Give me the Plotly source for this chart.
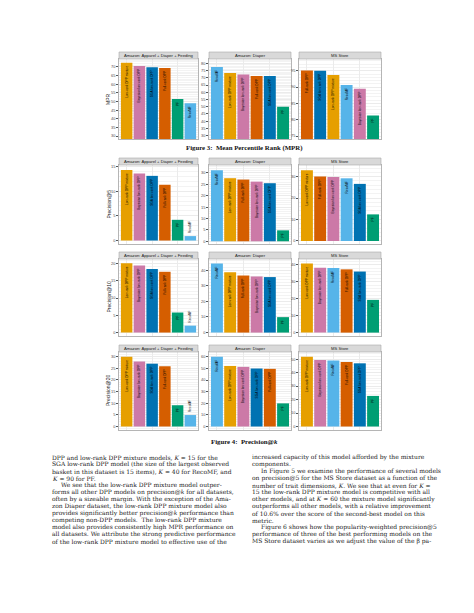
import plotly.graph_objects as go

W, H = 474, 613

datasets = ["Amazon: Apparel + Diaper + Feeding", "Amazon: Diaper", "MS Store"]

LR = "Low-rank DPP mixture"
BAY = "Bayesian low-rank DPP"
SGA = "SGA low-rank DPP"
FR = "Full-rank DPP"
PF = "PF"
RMF = "RecoMF"

model_colors = {
    LR: "#E69F00",
    BAY: "#CC79A7",
    SGA: "#0072B2",
    FR: "#D55E00",
    PF: "#009E73",
    RMF: "#56B4E9",
}

# Figure 3: MPR
mpr_models = [
    [LR, BAY, SGA, FR, PF, RMF],
    [RMF, LR, BAY, FR, SGA, PF],
    [FR, SGA, LR, RMF, BAY, PF],
]
mpr_values = [
    [72.5, 70.6, 69.8, 69.4, 51.5, 49.0],
    [77.5, 73.3, 72.2, 71.2, 71.2, 50.0],
    [95.1, 95.0, 93.7, 90.6, 89.5, 81.3],
]

# Figure 4: precision@k
p5_models = [
    [LR, BAY, SGA, FR, PF, RMF],
    [RMF, LR, FR, BAY, SGA, PF],
    [LR, FR, BAY, RMF, SGA, PF],
]
p5_values = [
    [14.3, 13.6, 13.1, 11.3, 4.2, 0.9],
    [31.2, 27.7, 27.1, 26.2, 25.5, 4.8],
    [32.9, 30.1, 29.8, 29.2, 26.6, 12.4],
]

p10_models = [
    [LR, BAY, SGA, FR, PF, RMF],
    [RMF, LR, FR, BAY, SGA, PF],
    [LR, BAY, RMF, FR, SGA, PF],
]
p10_values = [
    [20.1, 19.4, 18.4, 17.6, 5.8, 2.0],
    [44.3, 38.7, 36.6, 36.0, 35.6, 9.9],
    [40.7, 38.3, 38.1, 37.3, 36.0, 19.3],
]

p20_models = [
    [LR, BAY, SGA, FR, PF, RMF],
    [RMF, LR, BAY, SGA, FR, PF],
    [LR, BAY, RMF, FR, SGA, PF],
]
p20_values = [
    [29.9, 27.8, 26.9, 25.8, 9.1, 4.9],
    [60.0, 52.1, 51.3, 49.9, 49.6, 19.9],
    [51.7, 49.3, 49.0, 47.8, 46.9, 22.7],
]

metric_titles = ["MPR", "Precision@5", "Precision@10", "Precision@20"]
metric_models = [mpr_models, p5_models, p10_models, p20_models]
metric_values = [mpr_values, p5_values, p10_values, p20_values]

# axis ranges / tick steps as drawn in the original
y_ranges = [
    [[28.3, 74.6], [27.7, 83.0], [74.1, 98.6]],
    [[-0.7, 15.3], [-1.2, 33.5], [-1.4, 35.4]],
    [[-1.0, 21.3], [-2.2, 47.2], [-2.0, 43.4]],
    [[-1.5, 31.9], [-3.0, 64.1], [-2.6, 55.3]],
]
y_dticks = [[5, 5, 5], [5, 5, 10], [5, 10, 10], [5, 10, 10]]

left_lines = [
    "DPP and low-rank DPP mixture models, <i>K</i> = 15 for the",
    "SGA low-rank DPP model (the size of the largest observed",
    "basket in this dataset is 15 items), <i>K</i> = 40 for RecoMF, and",
    "<i>K</i> = 90 for PF.",
    "   We see that the low-rank DPP mixture model outper-",
    "forms all other DPP models on precision@<i>k</i> for all datasets,",
    "often by a sizeable margin. With the exception of the Ama-",
    "zon Diaper dataset, the low-rank DPP mixture model also",
    "provides significantly better precision@<i>k</i> performance than",
    "competing non-DPP models.  The low-rank DPP mixture",
    "model also provides consistently high MPR performance on",
    "all datasets. We attribute the strong predictive performance",
    "of the low-rank DPP mixture model to effective use of the",
]
right_lines = [
    "increased capacity of this model afforded by the mixture",
    "components.",
    "   In Figure 5 we examine the performance of several models",
    "on precision@5 for the MS Store dataset as a function of the",
    "number of trait dimensions, <i>K</i>. We see that at even for <i>K</i> =",
    "15 the low-rank DPP mixture model is competitive with all",
    "other models, and at <i>K</i> = 60 the mixture model significantly",
    "outperforms all other models, with a relative improvement",
    "of 10.6% over the score of the second-best model on this",
    "metric.",
    "   Figure 6 shows how the popularity-weighted precision@5",
    "performance of three of the best performing models on the",
    "MS Store dataset varies as we adjust the value of the β pa-",
]

# page geometry in pixels
col_px = [(111, 190), (201, 283), (291, 373)]
row_px = [(51, 131), (157, 236), (251, 328), (344, 422)]
strip_h = 7
bar_font = 3.2


def px_x(x):
    return x / W


def px_y(y):
    return 1 - y / H


fig = go.Figure()
shapes = []
annotations = []

n = 0
for r in range(4):
    for c in range(3):
        n += 1
        suffix = "" if n == 1 else str(n)
        models = metric_models[r][c]
        vals = metric_values[r][c]
        lo, hi = y_ranges[r][c]
        t, b = row_px[r]
        # label goes above the bar when it would not fit inside
        positions = []
        for m, v in zip(models, vals):
            bar_px = (v - lo) / (hi - lo) * (b - t)
            need_px = len(m) * 0.55 * bar_font + 5
            positions.append("inside" if bar_px > need_px else "outside")
        fig.add_trace(go.Bar(
            x=models, y=vals,
            marker=dict(color=[model_colors[m] for m in models], line=dict(width=0)),
            text=models, textposition=positions, textangle=-90,
            insidetextanchor="end",
            textfont=dict(family="Liberation Sans", size=bar_font, color="black"),
            insidetextfont=dict(family="Liberation Sans", size=bar_font, color="black"),
            outsidetextfont=dict(family="Liberation Sans", size=bar_font, color="black"),
            constraintext="none",
            xaxis="x" + suffix, yaxis="y" + suffix,
            showlegend=False, hoverinfo="x+y",
        ))
        x0, x1 = col_px[c]
        fig.layout["xaxis" + suffix] = dict(
            domain=[px_x(x0), px_x(x1)], anchor="y" + suffix,
            showticklabels=False, ticks="", range=[-0.6, 5.6],
            showgrid=True, gridcolor="#EBEBEB", gridwidth=0.6,
            showline=True, mirror=True, linecolor="#B5B5B5", linewidth=0.6,
            zeroline=False, fixedrange=True,
        )
        fig.layout["yaxis" + suffix] = dict(
            domain=[px_y(b), px_y(t)], anchor="x" + suffix,
            range=[lo, hi], dtick=y_dticks[r][c], tick0=0,
            ticks="outside", ticklen=2, tickwidth=0.5, tickcolor="#555555",
            tickfont=dict(family="Liberation Sans", size=4, color="#4D4D4D"),
            showgrid=True, gridcolor="#EBEBEB", gridwidth=0.6,
            minor=dict(showgrid=True, gridcolor="#F3F3F3", gridwidth=0.4),
            showline=True, mirror=True, linecolor="#B5B5B5", linewidth=0.6,
            zeroline=False, fixedrange=True,
        )
        # facet strip
        shapes.append(dict(
            type="rect", xref="paper", yref="paper",
            x0=px_x(x0), x1=px_x(x1), y0=px_y(t), y1=px_y(t - strip_h),
            fillcolor="#D9D9D9", line=dict(color="#A8A8A8", width=0.6), layer="above",
        ))
        annotations.append(dict(
            xref="paper", yref="paper", x=px_x((x0 + x1) / 2), y=px_y(t - strip_h / 2),
            text=datasets[c], showarrow=False, xanchor="center", yanchor="middle",
            font=dict(family="Liberation Sans", size=4.2, color="#1A1A1A"),
        ))
    t, b = row_px[r]
    annotations.append(dict(
        xref="paper", yref="paper", x=px_x(100), y=px_y((t + b) / 2),
        text=metric_titles[r], showarrow=False, textangle=-90,
        xanchor="center", yanchor="middle",
        font=dict(family="Liberation Sans", size=5, color="#222222"),
    ))

# captions
annotations.append(dict(
    xref="paper", yref="paper", x=px_x(236), y=px_y(140),
    text="<b>Figure 3:  Mean Percentile Rank (MPR)</b>", showarrow=False,
    xanchor="center", yanchor="middle",
    font=dict(family="Liberation Serif", size=6.8, color="#111111"),
))
annotations.append(dict(
    xref="paper", yref="paper", x=px_x(236), y=px_y(433),
    text="<b>Figure 4:  Precision@<i>k</i></b>", showarrow=False,
    xanchor="center", yanchor="middle",
    font=dict(family="Liberation Serif", size=6.8, color="#111111"),
))

# body text
for i, line in enumerate(left_lines):
    annotations.append(dict(
        xref="paper", yref="paper", x=px_x(41.5), y=px_y(449 + i * 7.04),
        text=line.replace("   ", "\u2003\u2002"), showarrow=False, xanchor="left", yanchor="middle",
        font=dict(family="DejaVu Serif", size=6.0, color="#222222"),
    ))
for i, line in enumerate(right_lines):
    annotations.append(dict(
        xref="paper", yref="paper", x=px_x(241.7), y=px_y(449 + i * 7.04),
        text=line.replace("   ", "\u2003\u2002"), showarrow=False, xanchor="left", yanchor="middle",
        font=dict(family="DejaVu Serif", size=6.0, color="#222222"),
    ))

fig.update_layout(
    width=W, height=H,
    margin=dict(l=0, r=0, t=0, b=0),
    paper_bgcolor="white", plot_bgcolor="white",
    bargap=0.1,
    shapes=shapes, annotations=annotations,
    showlegend=False,
)

fig.write_html("out.html")
